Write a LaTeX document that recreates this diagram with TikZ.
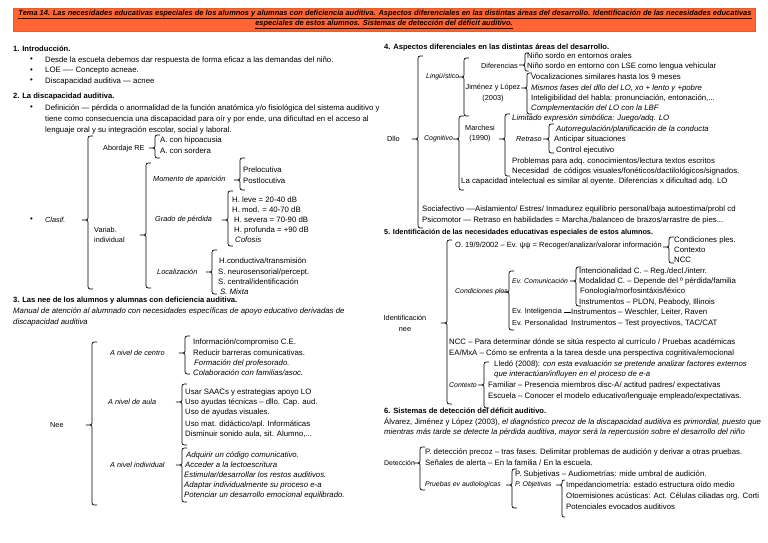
\documentclass[tikz,border=0pt]{standalone}
\usepackage{fontspec}
\setmainfont{Liberation Sans}
\newcommand\mybr[5][4]{\draw[brc] (#2+#1+1,#3) .. controls (#2,#3) .. (#2,#3+#1+1) -- (#2,#4-#1) .. controls (#2,#4) .. (#2-6,#4) .. controls (#2,#4) .. (#2,#4+#1) -- (#2,#5-#1-1) .. controls (#2,#5) .. (#2+#1+1,#5);}
\begin{document}
\begin{tikzpicture}[x=1pt,y=-1pt,
  t/.style={anchor=west,inner sep=0pt,font=\fontsize{7.8}{8.8}\selectfont},
  ti/.style={t,font=\fontsize{7.8}{8.8}\selectfont\itshape},
  tl/.style={t,font=\fontsize{7.3}{8.8}\selectfont},
  tli/.style={t,font=\fontsize{7.3}{8.8}\selectfont\itshape},
  tls/.style={t,font=\fontsize{6.9}{8.8}\selectfont\itshape},
  hd/.style={t,font=\fontsize{7.6}{8.8}\selectfont\bfseries},
  tc/.style={inner sep=0pt,align=center,font=\fontsize{7.3}{10.5}\selectfont},
  ttl/.style={inner sep=0pt,font=\fontsize{7.45}{8}\selectfont\bfseries\itshape},
  brc/.style={draw=black,line width=0.7pt},
  bar/.style={fill=orange1,draw=orange2,line width=0.4pt}]
\definecolor{orange1}{HTML}{FF6633}
\definecolor{orange2}{HTML}{F05A28}
\useasboundingbox (0,0) rectangle (768,543);
\fill[white] (0,0) rectangle (768,543);
% title
\filldraw[bar] (13,8) rectangle (755,31);
\node[ttl] (tt1) at (385,14.5) {\underline{Tema 14. Las necesidades educativas especiales de los alumnos y alumnas con deficiencia auditiva. Aspectos diferenciales en las distintas áreas del desarrollo. Identificación de las necesidades educativas}};
\node[ttl] (tt2) at (384,24.5) {\underline{especiales de estos alumnos. Sistemas de detección del déficit auditivo.}};
% ---------- left column
\node[hd] (s1) at (13,49) {1. Introducción.};
\node[t] (b1) at (30,60) {•}; \node[t] (i1) at (45,60) {Desde la escuela debemos dar respuesta de forma eficaz a las demandas del niño.};
\node[t] (b2) at (30,70.5) {•}; \node[t] (i2) at (45,70.5) {LOE ---- Concepto acneae.};
\node[t] (b3) at (30,81) {•}; \node[t] (i3) at (45,81) {Discapacidad auditiva --- acnee};
\node[hd] (s2) at (13,97) {2. La discapacidad auditiva.};
\node[t] (b4) at (30,108) {•}; \node[t] (d1) at (45,108) {Definición --- pérdida o anormalidad de la función anatómica y/o fisiológica del sistema auditivo y};
\node[t] (d2) at (45,119) {tiene como consecuencia una discapacidad para oír y por ende, una dificultad en el acceso al};
\node[t] (d3) at (45,130) {lenguaje oral y su integración escolar, social y laboral.};
\node[t] (b5) at (30,220) {•}; \node[tli] (cl) at (45,220) {Clasif.};
\node[tl] (ab) at (103,149) {Abordaje RE};
\node[t] (ah) at (160,140) {A. con hipoacusia};
\node[t] (as) at (160,151) {A. con sordera};
\node[tl,align=left,font=\fontsize{7.3}{10}\selectfont] (vi) at (94,235) {Variab.\\individual};
\node[tli] (ma) at (153,180) {Momento de aparición};
\node[t] (pre) at (243,170) {Prelocutiva};
\node[t] (post) at (243,181) {Postlocutiva};
\node[tli] (gp) at (155,220) {Grado de pérdida};
\node[t] (h1) at (232,200) {H. leve = 20-40 dB};
\node[t] (h2) at (232,210) {H. mod. = 40-70 dB};
\node[t] (h3) at (234,220) {H. severa = 70-90 dB};
\node[t] (h4) at (234,230) {H. profunda = +90 dB};
\node[ti] (h5) at (235,240) {Cofosis};
\node[tli] (loc) at (157,272) {Localización};
\node[t] (l1) at (219,261) {H.conductiva/transmisión};
\node[t] (l2) at (218,272) {S. neurosensorial/percept.};
\node[t] (l3) at (218,282) {S. central/identificación};
\node[ti] (l4) at (220,292) {S. Mixta};
\node[hd] (s3) at (13,301) {3. Las nee de los alumnos y alumnas con deficiencia auditiva.};
\node[ti] (m1) at (13,311.5) {Manual de atención al alumnado con necesidades específicas de apoyo educativo derivadas de};
\node[ti] (m2) at (13,322) {discapacidad auditiva};
\node[tl] (nee) at (50,425) {Nee};
\node[tli] (anc) at (110,353) {A nivel de centro};
\node[t] (c1) at (193,342) {Información/compromiso C.E.};
\node[t] (c2) at (193,353) {Reducir barreras comunicativas.};
\node[ti] (c3) at (194,363) {Formación del profesorado.};
\node[ti] (c4) at (193,373) {Colaboración con familias/asoc.};
\node[tli] (ana) at (108,402) {A nivel de aula};
\node[t] (u1) at (185,392) {Usar SAACs y estrategias apoyo LO};
\node[t] (u2) at (185,402) {Uso ayudas técnicas – dllo. Cap. aud.};
\node[t] (u3) at (185,412) {Uso de ayudas visuales.};
\node[t] (u4) at (185,424) {Uso mat. didáctico/apl. Informáticas};
\node[t] (u5) at (185,434) {Disminuir sonido aula, sit. Alumno,...};
\node[tli] (ani) at (110,465) {A nivel individual};
\node[ti] (n1) at (186,455) {Adquirir un código comunicativo.};
\node[ti] (n2) at (185,465) {Acceder a la lectoescritura};
\node[ti] (n3) at (184,475) {Estimular/desarrollar los restos auditivos.};
\node[ti] (n4) at (184,485) {Adaptar individualmente su proceso e-a};
\node[ti] (n5) at (184,495) {Potenciar un desarrollo emocional equilibrado.};
% left braces
\mybr{88}{136}{220}{289}
\mybr{155}{135}{148}{158}
\mybr{146}{163}{235}{288}
\mybr{240}{158}{180}{190}
\mybr{228}{191}{220}{246}
\mybr{212}{250}{272}{294}
\mybr{92}{342}{425}{505}
\mybr{185}{336}{353}{374}
\mybr{182}{384}{402}{445}
\mybr{182}{448}{465}{502}
% ---------- right column
\node[hd] (s4) at (384,48) {4. Aspectos diferenciales en las distintas áreas del desarrollo.};
\node[t] (r1) at (527,56) {Niño sordo en entornos orales};
\node[tl] (dif) at (481,66) {Diferencias};
\node[t] (r2) at (527,66) {Niño sordo en entorno con LSE como lengua vehicular};
\node[tls] (lin) at (426,77) {Lingüístico};
\node[t] (r3) at (531,77) {Vocalizaciones similares hasta los 9 meses};
\node[tc] (jl) at (493,93) {Jiménez y López\\(2003)};
\node[ti] (r4) at (531,88) {Mismos fases del dllo del LO, xo + lento y +pobre};
\node[t] (r5) at (531,98) {Inteligibilidad del habla: pronunciación, entonación,...};
\node[ti] (r6) at (531,108) {Complementación del LO con la LBF};
\node[ti] (r7) at (512,118) {Limitado expresión simbólica: Juego/adq. LO};
\node[tc] (mar) at (480,133.5) {Marchesi\\(1990)};
\node[ti] (r8) at (556,129) {Autorregulación/planificación de la conducta};
\node[tli] (ret) at (516,139) {Retraso};
\node[t] (r9) at (554,139) {Anticipar situaciones};
\node[t] (r10) at (556,150) {Control ejecutivo};
\node[t] (r11) at (512,161) {Problemas para adq. conocimientos/lectura textos escritos};
\node[t] (r12) at (512,171) {Necesidad \ de códigos visuales/fonéticos/dactilológicos/signados.};
\node[t] (r13) at (461,181) {La capacidad intelectual es similar al oyente. Diferencias x dificultad adq. LO};
\node[tl] (dllo) at (387,139) {Dllo};
\node[tls] (cog) at (424,139) {Cognitivo};
\node[t] (soc) at (422,209) {Sociafectivo –--Aislamiento/ Estres/ Inmadurez equilibrio personal/baja autoestima/probl cd};
\node[t] (psi) at (422,220) {Psicomotor --- Retraso en habilidades = Marcha,/balanceo de brazos/arrastre de pies...};
\mybr{418}{56}{139}{228}
\mybr{464}{58}{77}{116}
\mybr[2.5]{525}{53}{65}{71}
\mybr{527}{73}{88}{114}
\mybr{459}{116}{139}{190}
\mybr{505}{114}{139}{176}
\mybr{549}{124}{139}{153}
% section 5
\node[hd,font=\fontsize{7.3}{8.8}\selectfont\bfseries] (s5) at (384,233) {5. Identificación de las necesidades educativas especiales de estos alumnos.};
\node[t,font=\fontsize{7.5}{8.8}\selectfont] (o1) at (455,246) {O. 19/9/2002 – Ev. ψψ = Recoger/analizar/valorar información};
\node[t] (cp) at (674,240) {Condiciones ples.};
\node[t] (ctx) at (674,250) {Contexto};
\node[t] (ncc) at (674,260) {NCC};
\node[tc] (idn) at (405,323.5) {Identificación\\nee};
\node[tls] (cpl) at (455,292) {Condiciones ples};
\node[tls] (evc) at (512,281) {Ev. Comunicación};
\node[t] (e1) at (579,271) {Intencionalidad C. – Reg./decl./interr.};
\node[t] (e2) at (579,281) {Modalidad C. – Depende del º pérdida/familia};
\node[t] (e3) at (580,291) {Fonología/morfosintáxis/léxico};
\node[t] (e4) at (579,302) {Instrumentos – PLON, Peabody, Illinois};
\node[tl] (evi) at (512,312) {Ev. Inteligencia};
\node[t] (e5) at (571,312) {Instrumentos – Weschler, Leiter, Raven};
\node[tl] (evp) at (512,323) {Ev. Personalidad};
\node[t] (e6) at (571,323) {Instrumentos – Test proyectivos, TAC/CAT};
\draw[line width=0.6pt] (evi.east) ++(2,0) coordinate (dsA) -- (e5.west) ++(-3,0) coordinate (dsB);
\node[t] (nc2) at (449,342) {NCC – Para determinar dónde se sitúa respecto al currículo / Pruebas académicas};
\node[t] (ea) at (449,353) {EA/MxA – Cómo se enfrenta a la tarea desde una perspectiva cognitiva/emocional};
\node[t] (lle) at (494,364) {Lledó (2008): \itshape con esta evaluación se pretende analizar factores externos};
\node[ti] (lle2) at (494,374) {que interactúan/influyen en el proceso de e-a};
\node[tls] (cnt) at (449,385) {Contexto};
\node[t] (fam) at (488,385) {Familiar – Presencia miembros disc-A/ actitud padres/ expectativas};
\node[t] (esc) at (488,396) {Escuela – Conocer el modelo educativo/lenguaje empleado/expectativas.};
\mybr{669}{237}{247}{263}
\mybr{447}{240}{323}{404}
\mybr{509}{271}{292}{330}
\mybr{576}{267}{281}{306}
\mybr{484}{362}{385}{408}
% section 6
\node[hd] (s6) at (384,411) {6. Sistemas de detección del déficit auditivo.};
\node[t] (al1) at (384,422) {Álvarez, Jiménez y López (2003), \itshape el diagnóstico precoz de la discapacidad auditiva es primordial, puesto que};
\node[ti] (al2) at (384,432) {mientras más tarde se detecte la pérdida auditiva, mayor será la repercusión sobre el desarrollo del niño};
\node[t,font=\fontsize{6.9}{8.8}\selectfont] (det) at (384,463) {Detección};
\node[t] (p1) at (425,452) {P. detección precoz – tras fases. Delimitar problemas de audición y derivar a otras pruebas.};
\node[t] (p2) at (425,463) {Señales de alerta – En la familia / En la escuela.};
\node[tls] (pev) at (425,485) {Pruebas ev audiologícas};
\node[t] (p3) at (515,474) {P. Subjetivas – Audiometrías: mide umbral de audición.};
\node[tls] (pob) at (515,485) {P. Objetivas};
\node[t] (p4) at (566,485) {Impedanciometría: estado estructura oído medio};
\node[t] (p5) at (566,496) {Otoemisiones acústicas: Act. Células ciliadas org. Corti};
\node[t] (p6) at (566,507) {Potenciales evocados auditivos};
\mybr{420}{447}{463}{490}
\mybr{512}{469}{485}{508}
\mybr[2]{562}{480}{485}{517}
\end{tikzpicture}
\end{document}
